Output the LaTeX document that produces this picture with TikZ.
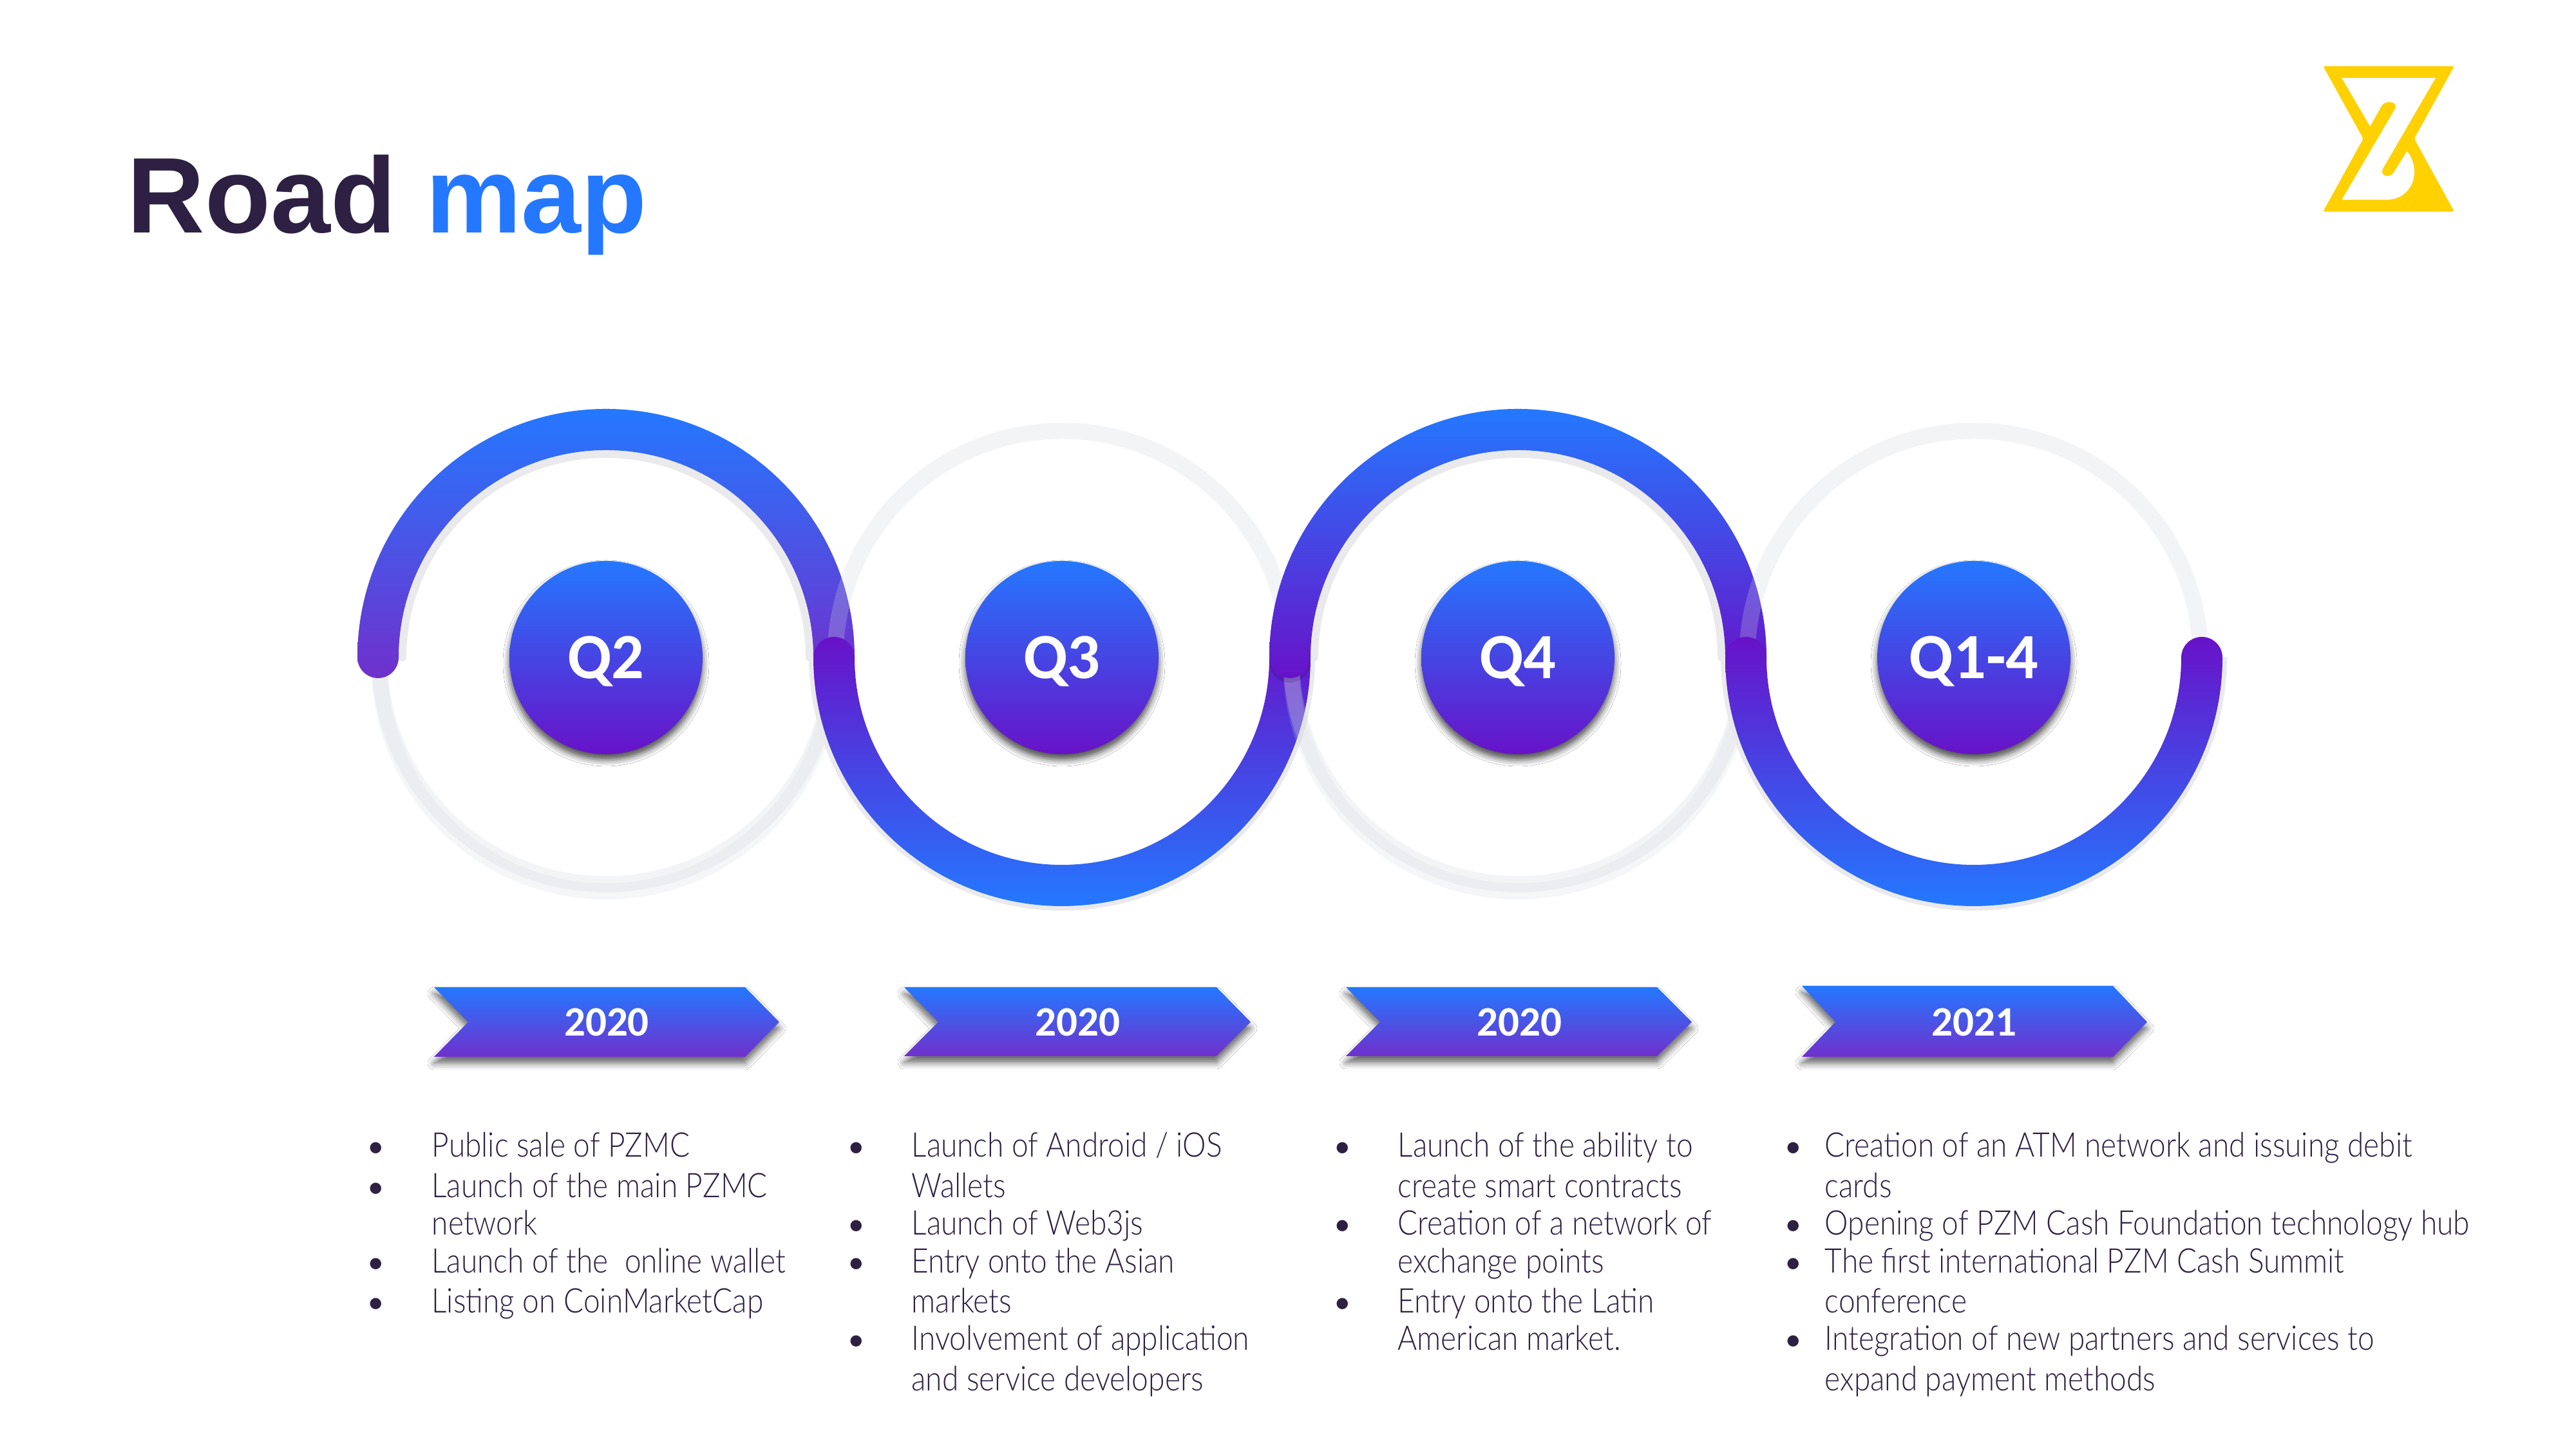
\documentclass[tikz,border=0pt]{standalone}
\usepackage{fontspec}
\setmainfont{Carlito}
\newfontfamily\titlefont{Liberation Sans}
\newfontfamily\itemfont[FakeStretch=0.873]{Lato Light}
\usetikzlibrary{shadows.blur}
\definecolor{roadblue}{HTML}{2478FF}
\definecolor{roadpurple}{HTML}{6812C8}
\definecolor{roadink}{HTML}{2E2043}
\definecolor{roadyellow}{HTML}{FFD100}
\definecolor{ringgrey}{HTML}{D0D4DC}
\definecolor{shadegrey}{HTML}{EAEAEC}
\definecolor{wavepurple}{HTML}{7030CC}
\tikzset{
    ringline/.style={draw=ringgrey, line width=0.25cm, opacity=0.25},
    ringlow/.style={ringline, opacity=0.2, yshift=-0.11cm},
    innershade/.style={draw=shadegrey, line width=0.12cm, line cap=round},
    outershade/.style={draw=shadegrey, line width=0.08cm},
    wavetop/.style={top color=roadblue, bottom color=wavepurple},
    wavetopdark/.style={top color=roadblue, bottom color=roadpurple},
    wavebot/.style={top color=roadpurple, bottom color=roadblue},
    quarter/.style={circle, minimum size=3cm, inner sep=0pt, top color=roadblue, bottom color=roadpurple, text=white,
        text height=0.65cm, text depth=0pt, font=\fontsize{28.5}{28.5}\selectfont\bfseries,
        blur shadow={shadow xshift=0cm, shadow yshift=-0.09cm, shadow blur radius=0.1cm, shadow opacity=70}},
    ribbon/.style={top color=roadblue, bottom color=wavepurple, blur shadow={shadow xshift=0cm, shadow yshift=-0.1cm, shadow blur radius=0.1cm, shadow opacity=60}},
    yearlabel/.style={text=white, inner sep=0pt, font=\fontsize{18.5}{18.5}\selectfont\bfseries},
    itemline/.style={anchor=base west, inner sep=0pt, text=roadink, font=\fontsize{15}{15}\selectfont\itemfont},
    itemdot/.style={anchor=base, inner sep=0pt, text=roadink, font=\fontsize{14}{14}\selectfont}
}
% half rings with round ends, #1 is the x of the centre
\newcommand{\wavetoppath}[1]{(#1-3.86,12.29) arc (180:0:3.86) arc (0:-180:0.32) arc (0:180:3.22) arc (0:-180:0.32) -- cycle}
\newcommand{\wavebotpath}[1]{(#1-3.86,12.29) arc (180:360:3.86) arc (0:180:0.32) arc (0:-180:3.22) arc (0:180:0.32) -- cycle}
\begin{document}
\begin{tikzpicture}
    \useasboundingbox[fill=white] (0,0) rectangle (40,22.5);

    \node (title) [anchor=base west, inner sep=0pt, font=\fontsize{47.5}{47.5}\selectfont\titlefont\bfseries] at (1.97,18.88) {\textcolor{roadink}{Road} \textcolor{roadblue}{map}};

    % logo, in its own small units
    \begin{scope}[shift={(35,22)}, x=0.003333cm, y=-0.003333cm]
        \fill[roadyellow, rounded corners=0.03cm] (322,158) -- (935,158) -- (748,497) -- (935,838) -- (322,838) -- (510,497) -- cycle;
        \fill[white] (410,214) -- (847,214) -- (600,640) .. controls (585,675) and (640,685) .. (655,650) -- (715,555)
            .. controls (790,660) and (730,782) .. (620,782) -- (410,782) -- (660,355) .. controls (672,322) and (610,315) .. (595,345) -- (542,440) -- cycle;
    \end{scope}

    % rings and waves, each ring lies over the wave before it
    \draw[ringline] (9.41,12.29) circle (3.52);
    \draw[ringlow] (9.41,12.29) circle (3.52);
    \draw[innershade] (6.25,12.29) arc (180:0:3.16);
    \shade[wavetop] \wavetoppath{9.41};

    \draw[ringline] (16.49,12.29) circle (3.52);
    \draw[outershade] (12.60,12.29) arc (180:360:3.89);
    \shade[wavebot] \wavebotpath{16.49};

    \draw[ringline] (23.57,12.29) circle (3.52);
    \draw[ringlow] (23.57,12.29) circle (3.52);
    \draw[innershade] (20.41,12.29) arc (180:0:3.16);
    \fill[black, opacity=0.12] (20.03,12.22) circle (0.32);
    \shade[wavetopdark] \wavetoppath{23.57};

    \draw[ringline] (30.65,12.29) circle (3.52);
    \draw[outershade] (26.76,12.29) arc (180:360:3.89);
    \shade[wavebot] \wavebotpath{30.65};

    \node[quarter] (q2) at (9.41,12.29) {Q2};
    \node[quarter] (q3) at (16.49,12.29) {Q3};
    \node[quarter] (q4) at (23.57,12.29) {Q4};
    \node[quarter] (q14) at (30.65,12.29) {Q1-4};

    % year ribbons
    \shade[ribbon] (6.74,7.17) -- (11.57,7.17) -- (12.10,6.63) -- (11.57,6.09) -- (6.74,6.09) -- (7.27,6.63) -- cycle;
    \shade[ribbon] (14.04,7.17) -- (18.89,7.17) -- (19.42,6.63) -- (18.89,6.10) -- (14.04,6.10) -- (14.57,6.63) -- cycle;
    \shade[ribbon] (20.90,7.17) -- (25.73,7.17) -- (26.27,6.63) -- (25.73,6.10) -- (20.90,6.10) -- (21.43,6.63) -- cycle;
    \shade[ribbon] (27.98,7.19) -- (32.81,7.19) -- (33.34,6.63) -- (32.81,6.09) -- (27.98,6.09) -- (28.50,6.63) -- cycle;
    \node[yearlabel] (y1) at (9.42,6.63) {2020};
    \node[yearlabel] (y2) at (16.73,6.63) {2020};
    \node[yearlabel] (y3) at (23.59,6.63) {2020};
    \node[yearlabel] (y4) at (30.65,6.63) {2021};

    % first list
    \node[itemdot] (d11) at (5.84,4.53) {•};
    \node[itemdot] (d12) at (5.84,3.90) {•};
    \node[itemdot] (d13) at (5.84,2.73) {•};
    \node[itemdot] (d14) at (5.84,2.11) {•};
    \node[itemline] (a1) at (6.70,4.53) {Public sale of PZMC};
    \node[itemline] (a2) at (6.70,3.90) {Launch of the main PZMC};
    \node[itemline] (a3) at (6.70,3.32) {network};
    \node[itemline] (a4) at (6.70,2.73) {Launch of the\ \ online wallet};
    \node[itemline] (a5) at (6.70,2.11) {Listing on CoinMarketCap};

    % second list
    \node[itemdot] (d21) at (13.30,4.53) {•};
    \node[itemdot] (d22) at (13.30,3.32) {•};
    \node[itemdot] (d23) at (13.30,2.73) {•};
    \node[itemdot] (d24) at (13.30,1.53) {•};
    \node[itemline] (b1) at (14.15,4.53) {Launch of Android / iOS};
    \node[itemline] (b2) at (14.15,3.90) {Wallets};
    \node[itemline] (b3) at (14.15,3.32) {Launch of Web3js};
    \node[itemline] (b4) at (14.15,2.73) {Entry onto the Asian};
    \node[itemline] (b5) at (14.15,2.11) {markets};
    \node[itemline] (b6) at (14.15,1.53) {Involvement of application};
    \node[itemline] (b7) at (14.15,0.90) {and service developers};

    % third list
    \node[itemdot] (d31) at (20.85,4.53) {•};
    \node[itemdot] (d32) at (20.85,3.32) {•};
    \node[itemdot] (d33) at (20.85,2.11) {•};
    \node[itemline] (c1) at (21.70,4.53) {Launch of the ability to};
    \node[itemline] (c2) at (21.70,3.90) {create smart contracts};
    \node[itemline] (c3) at (21.70,3.32) {Creation of a network of};
    \node[itemline] (c4) at (21.70,2.73) {exchange points};
    \node[itemline] (c5) at (21.70,2.11) {Entry onto the Latin};
    \node[itemline] (c6) at (21.70,1.53) {American market.};

    % fourth list
    \node[itemdot] (d41) at (27.85,4.53) {•};
    \node[itemdot] (d42) at (27.85,3.32) {•};
    \node[itemdot] (d43) at (27.85,2.73) {•};
    \node[itemdot] (d44) at (27.85,1.53) {•};
    \node[itemline] (e1) at (28.33,4.53) {Creation of an ATM network and issuing debit};
    \node[itemline] (e2) at (28.33,3.90) {cards};
    \node[itemline] (e3) at (28.33,3.32) {Opening of PZM Cash Foundation technology hub};
    \node[itemline] (e4) at (28.33,2.73) {The first international PZM Cash Summit};
    \node[itemline] (e5) at (28.33,2.11) {conference};
    \node[itemline] (e6) at (28.33,1.53) {Integration of new partners and services to};
    \node[itemline] (e7) at (28.33,0.90) {expand payment methods};
\end{tikzpicture}
\end{document}
